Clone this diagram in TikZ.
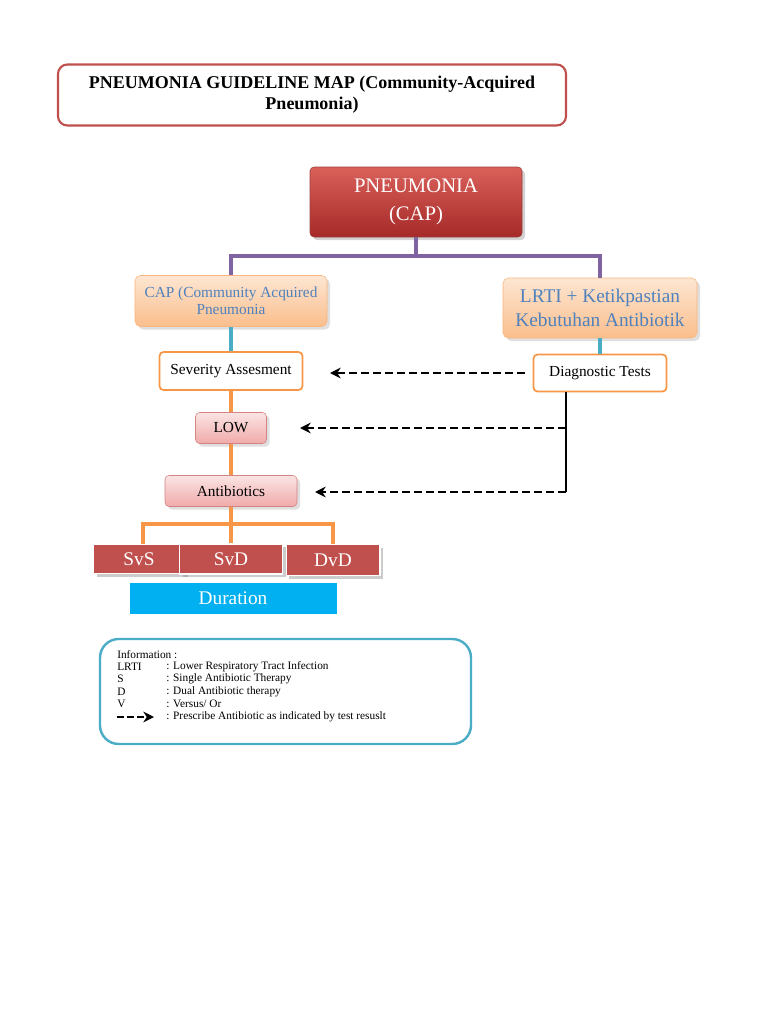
\documentclass[tikz,border=0pt]{standalone}
\usepackage{fontspec}
\setmainfont{Liberation Serif}
\usetikzlibrary{positioning,shadows,arrows.meta}

\definecolor{capred}{RGB}{192,80,77}
\definecolor{capdark}{RGB}{165,42,40}
\definecolor{caplight}{RGB}{218,96,90}
\definecolor{orng}{RGB}{247,150,70}
\definecolor{orngtop}{RGB}{253,230,210}
\definecolor{orngbot}{RGB}{250,190,140}
\definecolor{pinktop}{RGB}{251,228,228}
\definecolor{pinkbot}{RGB}{240,170,170}
\definecolor{purp}{RGB}{128,100,162}
\definecolor{teal}{RGB}{75,172,198}
\definecolor{bluetxt}{RGB}{79,129,189}
\definecolor{durblue}{RGB}{0,176,240}

\begin{document}
\begin{tikzpicture}[x=0.75pt, y=-0.75pt,
		every node/.style={inner sep=0pt, align=center, font=\fontsize{11.5}{13.5}\selectfont},
		titlebox/.style={draw=capred, line width=1.6pt, rounded corners=7pt, fill=white,
			minimum width=381pt, minimum height=45.75pt, font=\bfseries\fontsize{13.5}{16}\selectfont},
		rootbox/.style={draw=capred!80!black, rounded corners=3pt, top color=caplight, bottom color=capdark,
			text=white, drop shadow={opacity=0.35}, font=\fontsize{15.5}{21}\selectfont},
		peach/.style={draw=orng!70, rounded corners=4pt, top color=orngtop, bottom color=orngbot,
			text=bluetxt, drop shadow={opacity=0.25}},
		entry/.style={draw=orng, line width=1.3pt, rounded corners=3pt, fill=white},
		rose/.style={draw=capred!70, rounded corners=3pt, top color=pinktop, bottom color=pinkbot,
			drop shadow={opacity=0.25}},
		choice/.style={draw=white, line width=1.3pt, fill=capred, text=white,
			drop shadow={opacity=0.4}, font=\fontsize{14.5}{16}\selectfont},
		infobox/.style={draw=teal, line width=1.8pt, rounded corners=14pt, fill=white,
			minimum width=278.25pt, minimum height=78.75pt},
		key/.style={anchor=west, font=\fontsize{8.5}{10}\selectfont},
		link/.style={line width=2.8pt},
		probe/.style={line width=2pt, dash pattern=on 6pt off 3pt, -{Stealth[length=8pt,width=8pt]}}
	]
	\useasboundingbox (0,0) rectangle (768,1024);

	% title
	\node (title) [titlebox] at (312,95) {PNEUMONIA GUIDELINE MAP (Community-Acquired\\Pneumonia)};

	% top of the tree
	\node (pneu) [rootbox, minimum width=159pt, minimum height=52.5pt] at (416,202) {PNEUMONIA\\(CAP)};
	\node (cap) [peach, minimum width=144pt, minimum height=38.25pt, font=\fontsize{11.5}{13}\selectfont] at (231,301)
		{CAP (Community Acquired\\Pneumonia};
	\node (lrti) [peach, minimum width=145.5pt, minimum height=45pt, font=\fontsize{14.5}{17.5}\selectfont] at (600,308)
		{LRTI + Ketikpastian\\Kebutuhan Antibiotik};
	\coordinate (split) at (416,256);
	\draw [link, purp] (pneu.south) -- (split) -| (cap.north);
	\draw [link, purp] (split) -| (lrti.north);

	% left column
	\node (sev) [entry, minimum width=107.25pt, minimum height=28.5pt] at (231,371) {Severity Assesment};
	\node (diag) [entry, minimum width=99.75pt, minimum height=27.75pt] at (600,373) {Diagnostic Tests};
	\node (low) [rose, minimum width=53.25pt, minimum height=23.25pt] at (231,428) {LOW};
	\node (anti) [rose, minimum width=99pt, minimum height=23.25pt] at (231,491) {Antibiotics};
	\draw [link, teal] (cap.south) -- (sev.north);
	\draw [link, teal] (lrti.south) -- (diag.north);
	\draw [link, orng] (sev.south) -- (low.north);
	\draw [link, orng] (low.south) -- (anti.north);

	% test results
	\coordinate (d1) at (566,392);
	\coordinate (d2) at (566,428);
	\coordinate (d3) at (566,492);
	\draw [line width=2pt] (d1) -- (d3);
	\draw [probe] (diag.west) ++(-8,0) -- (330,373);
	\draw [probe] (d2) -- (300,428);
	\draw [probe] (d3) -- (315,492);

	% therapy choices
	\node (dur) [fill=durblue, text=white, minimum width=155.25pt, minimum height=23.25pt,
		font=\fontsize{14.5}{16}\selectfont] at (233,598) {Duration};
	\node (svs) [choice, minimum width=68.25pt, minimum height=21.75pt] at (139,559) {SvS};
	\node (dvd) [choice, minimum width=70.5pt, minimum height=23.25pt] at (333,560) {DvD};
	\node (svd) [choice, minimum width=77.25pt, minimum height=22.5pt] at (231,559) {SvD};
	\coordinate (fork) at (231,524);
	\draw [link, orng] (anti.south) -- (fork);
	\draw [link, orng] (fork) -| ([xshift=3]svs.north);
	\draw [link, orng] (fork) -| (dvd.north);
	\draw [link, orng] (fork) -- (svd.north);

	% legend
	\node (info) [infobox] at (285.5,691.5) {};
	\node (i0) [key] at (117,655) {Information :};
	\node (i1) [key] at (117,667) {LRTI};
	\node (i2) [key] at (117,679) {S};
	\node (i3) [key] at (117,692) {D};
	\node (i4) [key] at (117,704) {V};
	\node (t1) [key] at (166,667) {: Lower Respiratory Tract Infection};
	\node (t2) [key] at (166,679) {: Single Antibiotic Therapy};
	\node (t3) [key] at (166,692) {: Dual Antibiotic therapy};
	\node (t4) [key] at (166,704) {: Versus/ Or};
	\node (t5) [key] at (166,717) {: Prescribe Antibiotic as indicated by test resuslt};
	\coordinate (k1) at (117,717);
	\coordinate (k2) at (154,717);
	\draw [probe, line width=1.8pt, dash pattern=on 5pt off 2.5pt] (k1) -- (k2);
\end{tikzpicture}
\end{document}
